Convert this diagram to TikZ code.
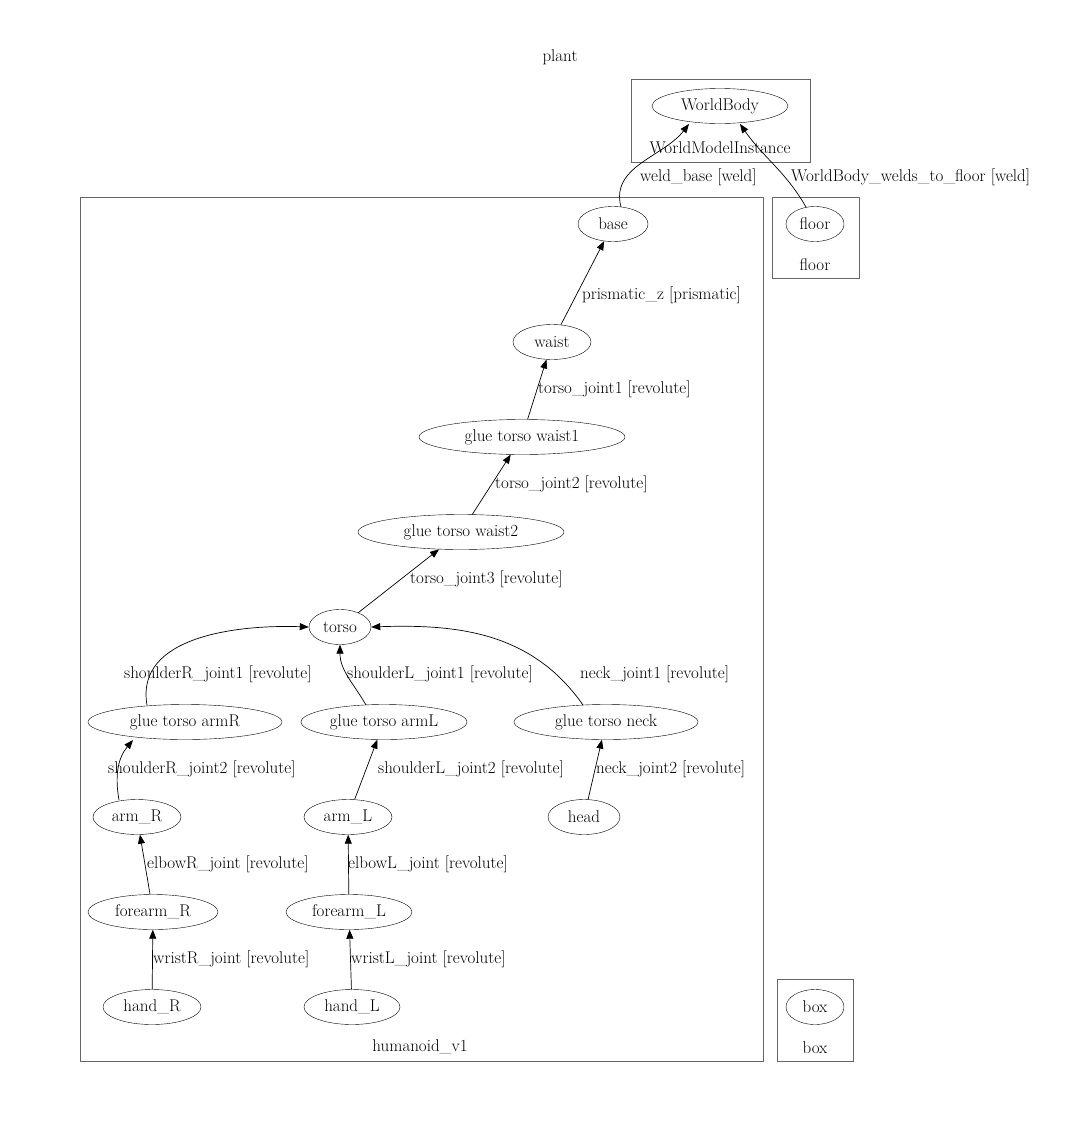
\documentclass[tikz,border=0pt]{standalone}
\usetikzlibrary{shapes.geometric,arrows.meta}
\begin{document}
\begin{tikzpicture}[x=1pt,y=-1pt,
  every node/.style={font=\fontsize{17}{20}\selectfont},
  el/.style={draw,ellipse,inner sep=0pt,minimum height=35pt},
  lab/.style={anchor=west,inner sep=0pt},
  cl/.style={draw=black!60,line width=0.7pt},
  ed/.style={-{Triangle[length=9pt,width=7pt]},line width=0.7pt}]
\useasboundingbox (0,0) rectangle (1090,1122);
% clusters
\draw[cl] (631,79) rectangle (810,162);
\draw[cl] (80,197) rectangle (763,1061);
\draw[cl] (772,197) rectangle (859,278);
\draw[cl] (777,979) rectangle (853,1061);
\node (tplant) at (560,57) {plant};
\node (twmi) at (720,148) {WorldModelInstance};
\node (thum) at (420,1047) {humanoid\_v1};
\node (tfloor) at (815,265) {floor};
\node (tbox) at (815,1048) {box};
% nodes
\node[el,minimum width=136pt] (wb) at (720,106) {WorldBody};
\node[el,minimum width=70pt] (base) at (613,224) {base};
\node[el,minimum width=78pt] (waist) at (552,342) {waist};
\node[el,minimum width=206pt] (g1) at (522,437) {glue torso waist1};
\node[el,minimum width=206pt] (g2) at (461,532) {glue torso waist2};
\node[el,minimum width=62pt] (torso) at (340,627) {torso};
\node[el,minimum width=194pt] (gar) at (185,722) {glue torso armR};
\node[el,minimum width=166pt] (gal) at (384,722) {glue torso armL};
\node[el,minimum width=184pt] (gn) at (606,722) {glue torso neck};
\node[el,minimum width=88pt] (ar) at (137,817) {arm\_R};
\node[el,minimum width=88pt] (al) at (348,817) {arm\_L};
\node[el,minimum width=72pt] (head) at (584,817) {head};
\node[el,minimum width=130pt] (far) at (153,912) {forearm\_R};
\node[el,minimum width=126pt] (fal) at (349,912) {forearm\_L};
\node[el,minimum width=98pt] (har) at (152,1007) {hand\_R};
\node[el,minimum width=96pt] (hal) at (352,1007) {hand\_L};
\node[el,minimum width=58pt] (floor) at (815,224) {floor};
\node[el,minimum width=58pt] (box) at (815,1007) {box};
% edge end points
\coordinate (bs) at (621,207);
\coordinate (wbl) at (689,124);
\coordinate (fl) at (806,207);
\coordinate (wbr) at (740,124);
\coordinate (garb) at (147,705);
\coordinate (galb) at (366,705);
\coordinate (gnb) at (583,705);
\coordinate (art) at (119,800);
\coordinate (garl) at (133,740);
% edges
\draw[ed] (bs) to[out=105,in=-128] (wbl);
\draw[ed] (fl) to[out=120,in=-55] (wbr);
\draw[ed] (waist) -- (base);
\draw[ed] (g1) -- (waist);
\draw[ed] (g2) -- (g1);
\draw[ed] (torso) -- (g2);
\draw[ed] (garb) to[out=100,in=178] (torso.west);
\draw[ed] (galb) to[out=120,in=-90] (torso.south);
\draw[ed] (gnb) to[out=125,in=2] (torso.east);
\draw[ed] (art) to[out=100,in=-130] (garl);
\draw[ed] (al) -- (gal);
\draw[ed] (head) -- (gn);
\draw[ed] (far) -- (ar);
\draw[ed] (fal) -- (al);
\draw[ed] (har) -- (far);
\draw[ed] (hal) -- (fal);
% labels
\node[lab] (l1) at (640,177) {weld\_base [weld]};
\node[lab] (l2) at (791,177) {WorldBody\_welds\_to\_floor [weld]};
\node[lab] (l3) at (582,295) {prismatic\_z [prismatic]};
\node[lab] (l4) at (538,389) {torso\_joint1 [revolute]};
\node[lab] (l5) at (495,484) {torso\_joint2 [revolute]};
\node[lab] (l6) at (410,579) {torso\_joint3 [revolute]};
\node[lab] (l7) at (124,674) {shoulderR\_joint1 [revolute]};
\node[lab] (l8) at (347,674) {shoulderL\_joint1 [revolute]};
\node[lab] (l9) at (580,674) {neck\_joint1 [revolute]};
\node[lab] (l10) at (108,769) {shoulderR\_joint2 [revolute]};
\node[lab] (l11) at (378,769) {shoulderL\_joint2 [revolute]};
\node[lab] (l12) at (596,769) {neck\_joint2 [revolute]};
\node[lab] (l13) at (147,864) {elbowR\_joint [revolute]};
\node[lab] (l14) at (348,864) {elbowL\_joint [revolute]};
\node[lab] (l15) at (153,959) {wristR\_joint [revolute]};
\node[lab] (l16) at (351,959) {wristL\_joint [revolute]};
\end{tikzpicture}
\end{document}
